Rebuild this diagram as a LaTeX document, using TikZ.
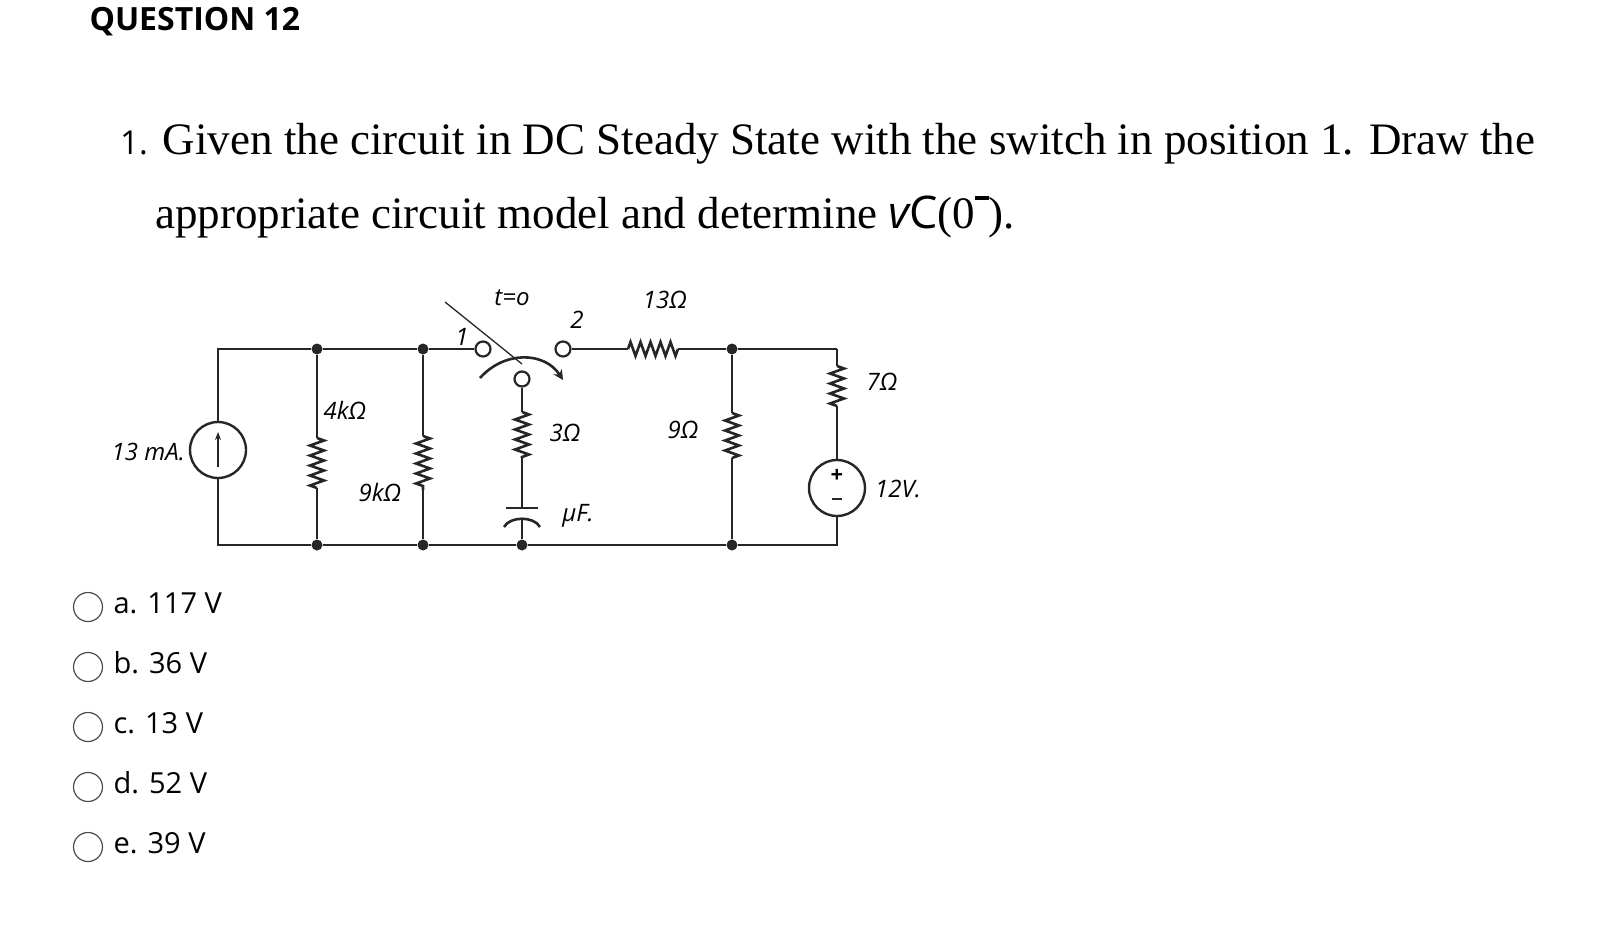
\documentclass[tikz,border=0pt]{standalone}
\usepackage{fontspec}
\setmainfont{Liberation Serif}
\newfontfamily\osans{Open Sans}
\usetikzlibrary{decorations.pathmorphing,arrows.meta}
\begin{document}
\begin{tikzpicture}[x=1pt,y=-1pt,
  wire/.style={line width=2.6pt,black!85},
  res/.style={wire,decorate,decoration={zigzag,segment length=10pt,amplitude=7pt}},
  dot/.style={circle,fill=black!85,inner sep=0pt,minimum size=11pt},
  term/.style={circle,draw=black!85,line width=2.2pt,fill=white,inner sep=0pt,minimum size=15pt},
  hand/.style={font=\osans\itshape\fontsize{24}{24}\selectfont,inner sep=1pt},
  opt/.style={circle,draw=black!70,line width=1.2pt,minimum size=29pt,inner sep=0pt},
  optt/.style={font=\osans\fontsize{29}{29}\selectfont,anchor=west}]
\useasboundingbox (0,0) rectangle (1608,936);
\node[anchor=west,font=\osans\bfseries\fontsize{32}{32}\selectfont] (title) at (86,22) {QUESTION 12};
\node[anchor=base west,inner sep=0pt,font=\fontsize{45}{45}\selectfont] (l1) at (120,155) {{\osans\fontsize{33}{33}\selectfont 1.} Given the circuit in DC Steady State with the switch in position 1. Draw the};
\node[anchor=base west,inner sep=0pt,font=\fontsize{45}{45}\selectfont] (l2) at (155,228) {appropriate circuit model and determine {\osans\itshape v}{\osans C}(0\raisebox{0.62em}{\rule{0.3em}{0.09em}}).};
% coordinates
\coordinate (TL) at (218,349); \coordinate (BL) at (218,545);
\node[dot] (t1) at (317,349) {}; \node[dot] (b1) at (317,545) {};
\node[dot] (t2) at (423,349) {}; \node[dot] (b2) at (423,545) {};
\node[term] (s1) at (483,349) {};
\node[term] (sc) at (522,379) {};
\node[term] (s2) at (563,349) {};
\node[dot] (b3) at (522,545) {};
\node[dot] (t4) at (732,349) {}; \node[dot] (b4) at (732,545) {};
\coordinate (TR) at (837,349); \coordinate (BR) at (837,545);
\node[circle,draw=black!85,line width=2.4pt,minimum size=56pt,inner sep=0pt] (cs) at (218,450) {};
\node[circle,draw=black!85,line width=2.4pt,minimum size=56pt,inner sep=0pt] (vs) at (837,488) {};
\draw[wire,-{Stealth[length=8pt]}] (218,467) -- (218,432);
\node[font=\osans\bfseries\fontsize{22}{22}\selectfont] (pl) at (837,476) {+};
\draw[wire] (832,499) -- (842,499);
% wires
\draw[wire] (cs) -- (TL) -- (t1) -- (t2) -- (s1);
\draw[wire] (cs) -- (BL) -- (b1) -- (b2) -- (b3) -- (b4) -- (BR) -- (vs);
\coordinate (r1a) at (317,438); \coordinate (r1b) at (317,488);
\draw[wire] (t1) -- (r1a); \draw[res] (r1a) -- (r1b); \draw[wire] (r1b) -- (b1);
\coordinate (r2a) at (423,436); \coordinate (r2b) at (423,490);
\draw[wire] (t2) -- (r2a); \draw[res] (r2a) -- (r2b); \draw[wire] (r2b) -- (b2);
\coordinate (r3a) at (522,412); \coordinate (r3b) at (522,458);
\draw[wire] (sc) -- (r3a); \draw[res] (r3a) -- (r3b); \draw[wire] (r3b) -- (522,508);
\draw[wire] (506,508) -- (538,508);
\draw[wire] (504,527) .. controls (510,516) and (534,516) .. (540,527);
\draw[wire] (522,518) -- (b3);
\coordinate (r4a) at (628,349); \coordinate (r4b) at (678,349);
\draw[wire] (s2) -- (r4a); \draw[res] (r4a) -- (r4b); \draw[wire] (r4b) -- (t4) -- (TR);
\coordinate (r5a) at (732,413); \coordinate (r5b) at (732,458);
\draw[wire] (t4) -- (r5a); \draw[res] (r5a) -- (r5b); \draw[wire] (r5b) -- (b4);
\coordinate (r6a) at (837,366); \coordinate (r6b) at (837,406);
\draw[wire] (TR) -- (r6a); \draw[res] (r6a) -- (r6b); \draw[wire] (r6b) -- (vs);
% switch
\draw[line width=1.3pt,black!85] (445,302) -- (522,364);
\draw[wire,-{Stealth[length=10pt,width=10pt]}] (480,378) .. controls (505,350) and (545,352) .. (563,380);
% labels
\node[hand] (lt) at (512,298) {t=o};
\node[hand] (l2n) at (577,320) {2};
\node[hand] (l1n) at (462,337) {1};
\node[hand] (l13) at (665,300) {13Ω};
\node[hand] (l7) at (882,382) {7Ω};
\node[hand] (l12) at (898,489) {12V.};
\node[hand] (l3) at (565,433) {3Ω};
\node[hand] (l9) at (683,430) {9Ω};
\node[hand] (luf) at (578,516) {μF.};
\node[hand] (l4k) at (345,410) {4kΩ};
\node[hand] (l9k) at (380,492) {9kΩ};
\node[hand,anchor=east] (lma) at (186,452) {13 mA.};
% options
\foreach \y/\t [count=\i] in {607/a. 117 V,667/b. 36 V,727/c. 13 V,787/d. 52 V,847/e. 39 V}{
  \node[opt] (o\i) at (88,\y) {};
  \node[optt] (ot\i) at (110,\y-4) {\t};
}
\end{tikzpicture}
\end{document}
